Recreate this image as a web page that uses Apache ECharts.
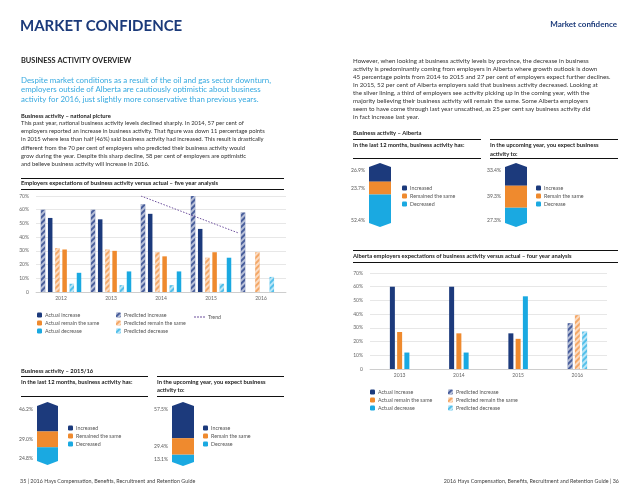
<!DOCTYPE html>
<html>
<head>
<meta charset="utf-8">
<script src="https://cdn.jsdelivr.net/npm/echarts@6/dist/echarts.min.js"></script>
<style>
html,body{margin:0;padding:0;background:#fff;}
#main{width:638px;height:493px;}
</style>
</head>
<body>
<div id="main"></div>
<script>
// ---------- DATA ----------
const years5 = ['2012', '2013', '2014', '2015', '2016'];
const natPredInc  = [60, 60, 64, 70, 58];
const natActInc   = [54, 53, 57, 46, '-'];
const natPredSame = [32, 31, 29, 25, 29];
const natActSame  = [31, 30, 26, 29, '-'];
const natPredDec  = [6, 5, 5, 6, 11];
const natActDec   = [14, 15, 15, 25, '-'];
const trendLine   = [[1.6, 70], [3.55, 43]];

const years4 = ['2013', '2014', '2015', '2016'];
const abActInc   = [60, 60, 26, '-'];
const abActSame  = [27, 26, 22, '-'];
const abActDec   = [12, 12, 53, '-'];
const abPredInc  = ['-', '-', '-', 33.4];
const abPredSame = ['-', '-', '-', 39.3];
const abPredDec  = ['-', '-', '-', 27.3];

const natLast12   = [46.2, 29.0, 24.8];
const natNextYear = [57.5, 29.4, 13.1];
const abLast12    = [26.9, 23.7, 52.4];
const abNextYear  = [33.4, 39.3, 27.3];

const pastNames   = ['Increased', 'Remained the same', 'Decreased'];
const futureNames = ['Increase', 'Remain the same', 'Decrease'];

// ---------- STYLE ----------
const FF = 'Lato, "Noto Sans", sans-serif';
const NAVY = '#1c3a7c', ORANGE = '#ef8a2e', LBLUE = '#1aa9e1';
const segColors = [NAVY, ORANGE, LBLUE];
function hatch(base) {
  return {
    color: base,
    decal: { symbol: 'rect', symbolSize: 1, rotation: -Math.PI / 4,
             color: 'rgba(255,255,255,0.6)', dashArrayX: [1, 0], dashArrayY: [1.4, 1.6] }
  };
}
const P_INC = hatch('#4a5f9c'), P_SAME = hatch('#f4a868'), P_DEC = hatch('#55c0ea');

function pct(v) { return v === 0 ? '0' : v + '%'; }

// ---------- TEXT / RULES ----------
const G = [];
function txt(x, y, text, size, o) {
  o = o || {};
  G.push({ type: 'text', x: x, y: y, silent: true,
    style: { text: text, font: (o.w || 'normal') + ' ' + size + 'px ' + FF, fill: o.c || '#333',
             align: o.a || 'left', verticalAlign: o.va || 'middle', lineHeight: o.lh || size * 1.3 } });
}
function rule(x1, x2, y) {
  G.push({ type: 'line', silent: true, shape: { x1: x1, y1: y + 0.5, x2: x2, y2: y + 0.5 },
           style: { stroke: '#111', lineWidth: 1 } });
}

txt(20, 26, 'MARKET CONFIDENCE', 15, { w: 'bold', c: '#1b3a7a' });
txt(617, 24, 'Market confidence', 8, { w: 'bold', c: '#1b3a7a', a: 'right' });
txt(21, 61, 'BUSINESS ACTIVITY OVERVIEW', 7.4, { w: 'bold', c: '#222' });
txt(21, 75.5, 'Despite market conditions as a result of the oil and gas sector downturn,\nemployers outside of Alberta are cautiously optimistic about business\nactivity for 2016, just slightly more conservative than previous years.', 7.9, { c: '#36a9e0', va: 'top', lh: 9.4 });
txt(21, 116, 'Business activity – national picture', 5.8, { w: 'bold', c: '#222' });
txt(21, 119.3, 'This past year, national business activity levels declined sharply. In 2014, 57 per cent of\nemployers reported an increase in business activity. That figure was down 11 percentage points\nin 2015 where less than half (46%) said business activity had increased. This result is drastically\ndifferent from the 70 per cent of employers who predicted their business activity would\ngrow during the year. Despite this sharp decline, 58 per cent of employers are optimistic\nand believe business activity will increase in 2016.', 5.85, { c: '#333', va: 'top', lh: 8.1 });

rule(21, 284, 178); rule(21, 284, 189);

txt(353, 57, 'However, when looking at business activity levels by province, the decrease in business\nactivity is predominantly coming from employers in Alberta where growth outlook is down\n45 percentage points from 2014 to 2015 and 27 per cent of employers expect further declines.\nIn 2015, 52 per cent of Alberta employers said that business activity decreased. Looking at\nthe silver lining, a third of employers see activity picking up in the coming year, with the\nmajority believing their business activity will remain the same. Some Alberta employers\nseem to have come through last year unscathed, as 25 per cent say business activity did\nin fact increase last year.', 6.2, { c: '#333', va: 'top', lh: 8 });

txt(353, 133, 'Business activity – Alberta', 5.8, { w: 'bold', c: '#222' });
rule(353, 481, 139); rule(490, 618, 139);
txt(353, 145, 'In the last 12 months, business activity has:', 5.8, { w: 'bold', c: '#222' });
txt(490, 141, 'In the upcoming year, you expect business\nactivity to:', 5.8, { w: 'bold', c: '#222', va: 'top', lh: 8.6 });
rule(353, 481, 158); rule(490, 618, 158);

rule(353, 618, 250); rule(353, 618, 262);

txt(21, 371, 'Business activity – 2015/16', 5.8, { w: 'bold', c: '#222' });
rule(21, 148, 376); rule(157, 284, 376);
txt(21, 382, 'In the last 12 months, business activity has:', 5.8, { w: 'bold', c: '#222' });
txt(157, 378, 'In the upcoming year, you expect business\nactivity to:', 5.8, { w: 'bold', c: '#222', va: 'top', lh: 8.3 });
rule(21, 148, 396); rule(157, 284, 396);

txt(20, 481, '35 | 2016 Hays Compensation, Benefits, Recruitment and Retention Guide', 5.4, { c: '#444' });
txt(619, 481, '2016 Hays Compensation, Benefits, Recruitment and Retention Guide | 36', 5.4, { c: '#444', a: 'right' });

// ---------- AXES ----------
const axisLbl = { fontSize: 5, color: '#666', fontFamily: FF };
const grids = [
  { left: 36, top: 196, width: 250, height: 96 },   // 0 national five-year
  { left: 370, top: 273, width: 237, height: 96 },  // 1 Alberta four-year
  { left: 37, top: 406, width: 21, height: 55 },    // 2 national last 12
  { left: 172, top: 406, width: 22, height: 56 },   // 3 national next year
  { left: 369, top: 167, width: 22, height: 56 },   // 4 Alberta last 12
  { left: 505, top: 167, width: 22, height: 56 }    // 5 Alberta next year
];
const valueY = (gi) => ({
  type: 'value', gridIndex: gi, min: 0, max: 70, interval: 10,
  axisLabel: Object.assign({ formatter: pct, margin: 7 }, axisLbl),
  axisLine: { show: false }, axisTick: { show: false },
  splitLine: { lineStyle: { color: '#d6d6d6', width: 0.6 } }
});
const catX = (gi, data) => ({
  type: 'category', gridIndex: gi, data: data,
  axisLabel: Object.assign({ margin: 4 }, axisLbl),
  axisTick: { show: false }, axisLine: { lineStyle: { color: '#bdbdbd', width: 0.6 } }
});
const stackTotals = [natLast12, natNextYear, abLast12, abNextYear].map(a => a.reduce((s, v) => s + v, 0));

const xAxes = [
  catX(0, years5),
  { type: 'value', gridIndex: 0, min: -0.5, max: 4.5, show: false },
  catX(1, years4)
];
const yAxes = [valueY(0), valueY(1)];
for (let i = 0; i < 4; i++) {
  xAxes.push({ type: 'category', gridIndex: 2 + i, data: ['x'], show: false });
  yAxes.push({ type: 'value', gridIndex: 2 + i, min: 0, max: stackTotals[i], inverse: true, show: false });
}

// ---------- SERIES ----------
const series = [];
const bw = 4.5;
function bar(name, data, style, xi, yi, extra) {
  series.push(Object.assign({ type: 'bar', name: name, data: data, xAxisIndex: xi, yAxisIndex: yi,
    barWidth: bw, barGap: '60%', itemStyle: style, silent: true }, extra || {}));
}
bar('Predicted increase', natPredInc, P_INC, 0, 0);
bar('Actual increase', natActInc, { color: NAVY }, 0, 0);
bar('Predicted remain the same', natPredSame, P_SAME, 0, 0);
bar('Actual remain the same', natActSame, { color: ORANGE }, 0, 0);
bar('Predicted decrease', natPredDec, P_DEC, 0, 0);
bar('Actual decrease', natActDec, { color: LBLUE }, 0, 0);
series.push({ type: 'line', name: 'Trend', data: trendLine, xAxisIndex: 1, yAxisIndex: 0,
  symbol: 'none', silent: true, lineStyle: { color: '#6c4f9c', width: 1, type: [1.5, 1.5] },
  itemStyle: { color: '#6c4f9c' } });

const rb = 5;
bar('Actual increase', abActInc, { color: NAVY }, 2, 1, { stack: 'inc', barWidth: rb, barGap: '45%' });
bar('Actual remain the same', abActSame, { color: ORANGE }, 2, 1, { stack: 'same', barWidth: rb, barGap: '45%' });
bar('Actual decrease', abActDec, { color: LBLUE }, 2, 1, { stack: 'dec', barWidth: rb, barGap: '45%' });
bar('Predicted increase', abPredInc, P_INC, 2, 1, { stack: 'inc', barWidth: rb, barGap: '45%' });
bar('Predicted remain the same', abPredSame, P_SAME, 2, 1, { stack: 'same', barWidth: rb, barGap: '45%' });
bar('Predicted decrease', abPredDec, P_DEC, 2, 1, { stack: 'dec', barWidth: rb, barGap: '45%' });

function arrowRender(params, api) {
  const a = api.coord([0, api.value(1)]);
  const b = api.coord([0, api.value(2)]);
  const w = api.size([1, 0])[0];
  const k = api.value(4), n = api.value(5);
  const cx = a[0], l = cx - w / 2, r = cx + w / 2, yt = a[1], yb = b[1], cap = 4;
  let pts;
  if (k === 0) pts = [[l, yb], [l, yt], [cx, yt - cap], [r, yt], [r, yb]];
  else if (k === n - 1) pts = [[l, yt], [r, yt], [r, yb], [cx, yb + cap], [l, yb]];
  else pts = [[l, yt], [r, yt], [r, yb], [l, yb]];
  const ly = k === 0 ? yt + 3 : (k === n - 1 ? yb - 3 : (yt + yb) / 2);
  return { type: 'group', children: [
    { type: 'polygon', shape: { points: pts }, style: { fill: api.visual('color') } },
    { type: 'text', style: { text: api.value(3).toFixed(1) + '%', x: l - 4, y: ly, align: 'right',
        verticalAlign: 'middle', font: '5px ' + FF, fill: '#555' } }
  ] };
}
function arrowStack(values, names, idx) {
  let cum = 0;
  values.forEach((v, k) => {
    const s = cum; cum += v;
    series.push({ type: 'custom', name: names[k], xAxisIndex: 3 + idx, yAxisIndex: 2 + idx,
      silent: true, itemStyle: { color: segColors[k] },
      encode: { x: 0, y: [1, 2] },
      data: [[0, s, cum, v, k, values.length]], renderItem: arrowRender });
  });
}
arrowStack(natLast12, pastNames, 0);
arrowStack(natNextYear, futureNames, 1);
arrowStack(abLast12, pastNames, 2);
arrowStack(abNextYear, futureNames, 3);

// ---------- LEGENDS ----------
function legend(left, top, data, iw, ih) {
  return { orient: 'vertical', left: left, top: top, padding: 0, itemGap: 3, itemWidth: iw || 5, itemHeight: ih || 5,
    selectedMode: false, data: data, textStyle: { fontSize: 5.3, color: '#555', fontFamily: FF, padding: [0, 0, 0, -2] } };
}
const dashIcon = 'path://M0 0H2V1H0Z M3 0H5V1H3Z M6 0H8V1H6Z M9 0H11V1H9Z';
const legends = [
  legend(37, 312.5, ['Actual increase', 'Actual remain the same', 'Actual decrease']),
  legend(116, 312.5, ['Predicted increase', 'Predicted remain the same', 'Predicted decrease']),
  legend(194, 314.5, [{ name: 'Trend', icon: dashIcon }], 11, 1),
  legend(370, 389.5, ['Actual increase', 'Actual remain the same', 'Actual decrease']),
  legend(448, 389.5, ['Predicted increase', 'Predicted remain the same', 'Predicted decrease']),
  legend(68, 425.5, pastNames),
  legend(203, 425.5, futureNames),
  legend(402, 185.5, pastNames),
  legend(536, 185.5, futureNames)
];

const titleStyle = { fontSize: 5.8, fontWeight: 'bold', color: '#222', fontFamily: FF };
const chart = echarts.init(document.getElementById('main'));
chart.setOption({
  animation: false,
  backgroundColor: '#fff',
  title: [
    { text: 'Employers expectations of business activity versus actual – five year analysis', left: 21, top: 180, padding: 0, textStyle: titleStyle },
    { text: 'Alberta employers expectations of business activity versus actual – four year analysis', left: 353, top: 253, padding: 0, textStyle: titleStyle }
  ],
  grid: grids,
  xAxis: xAxes,
  yAxis: yAxes,
  legend: legends,
  series: series,
  graphic: G
});
</script>
</body>
</html>
